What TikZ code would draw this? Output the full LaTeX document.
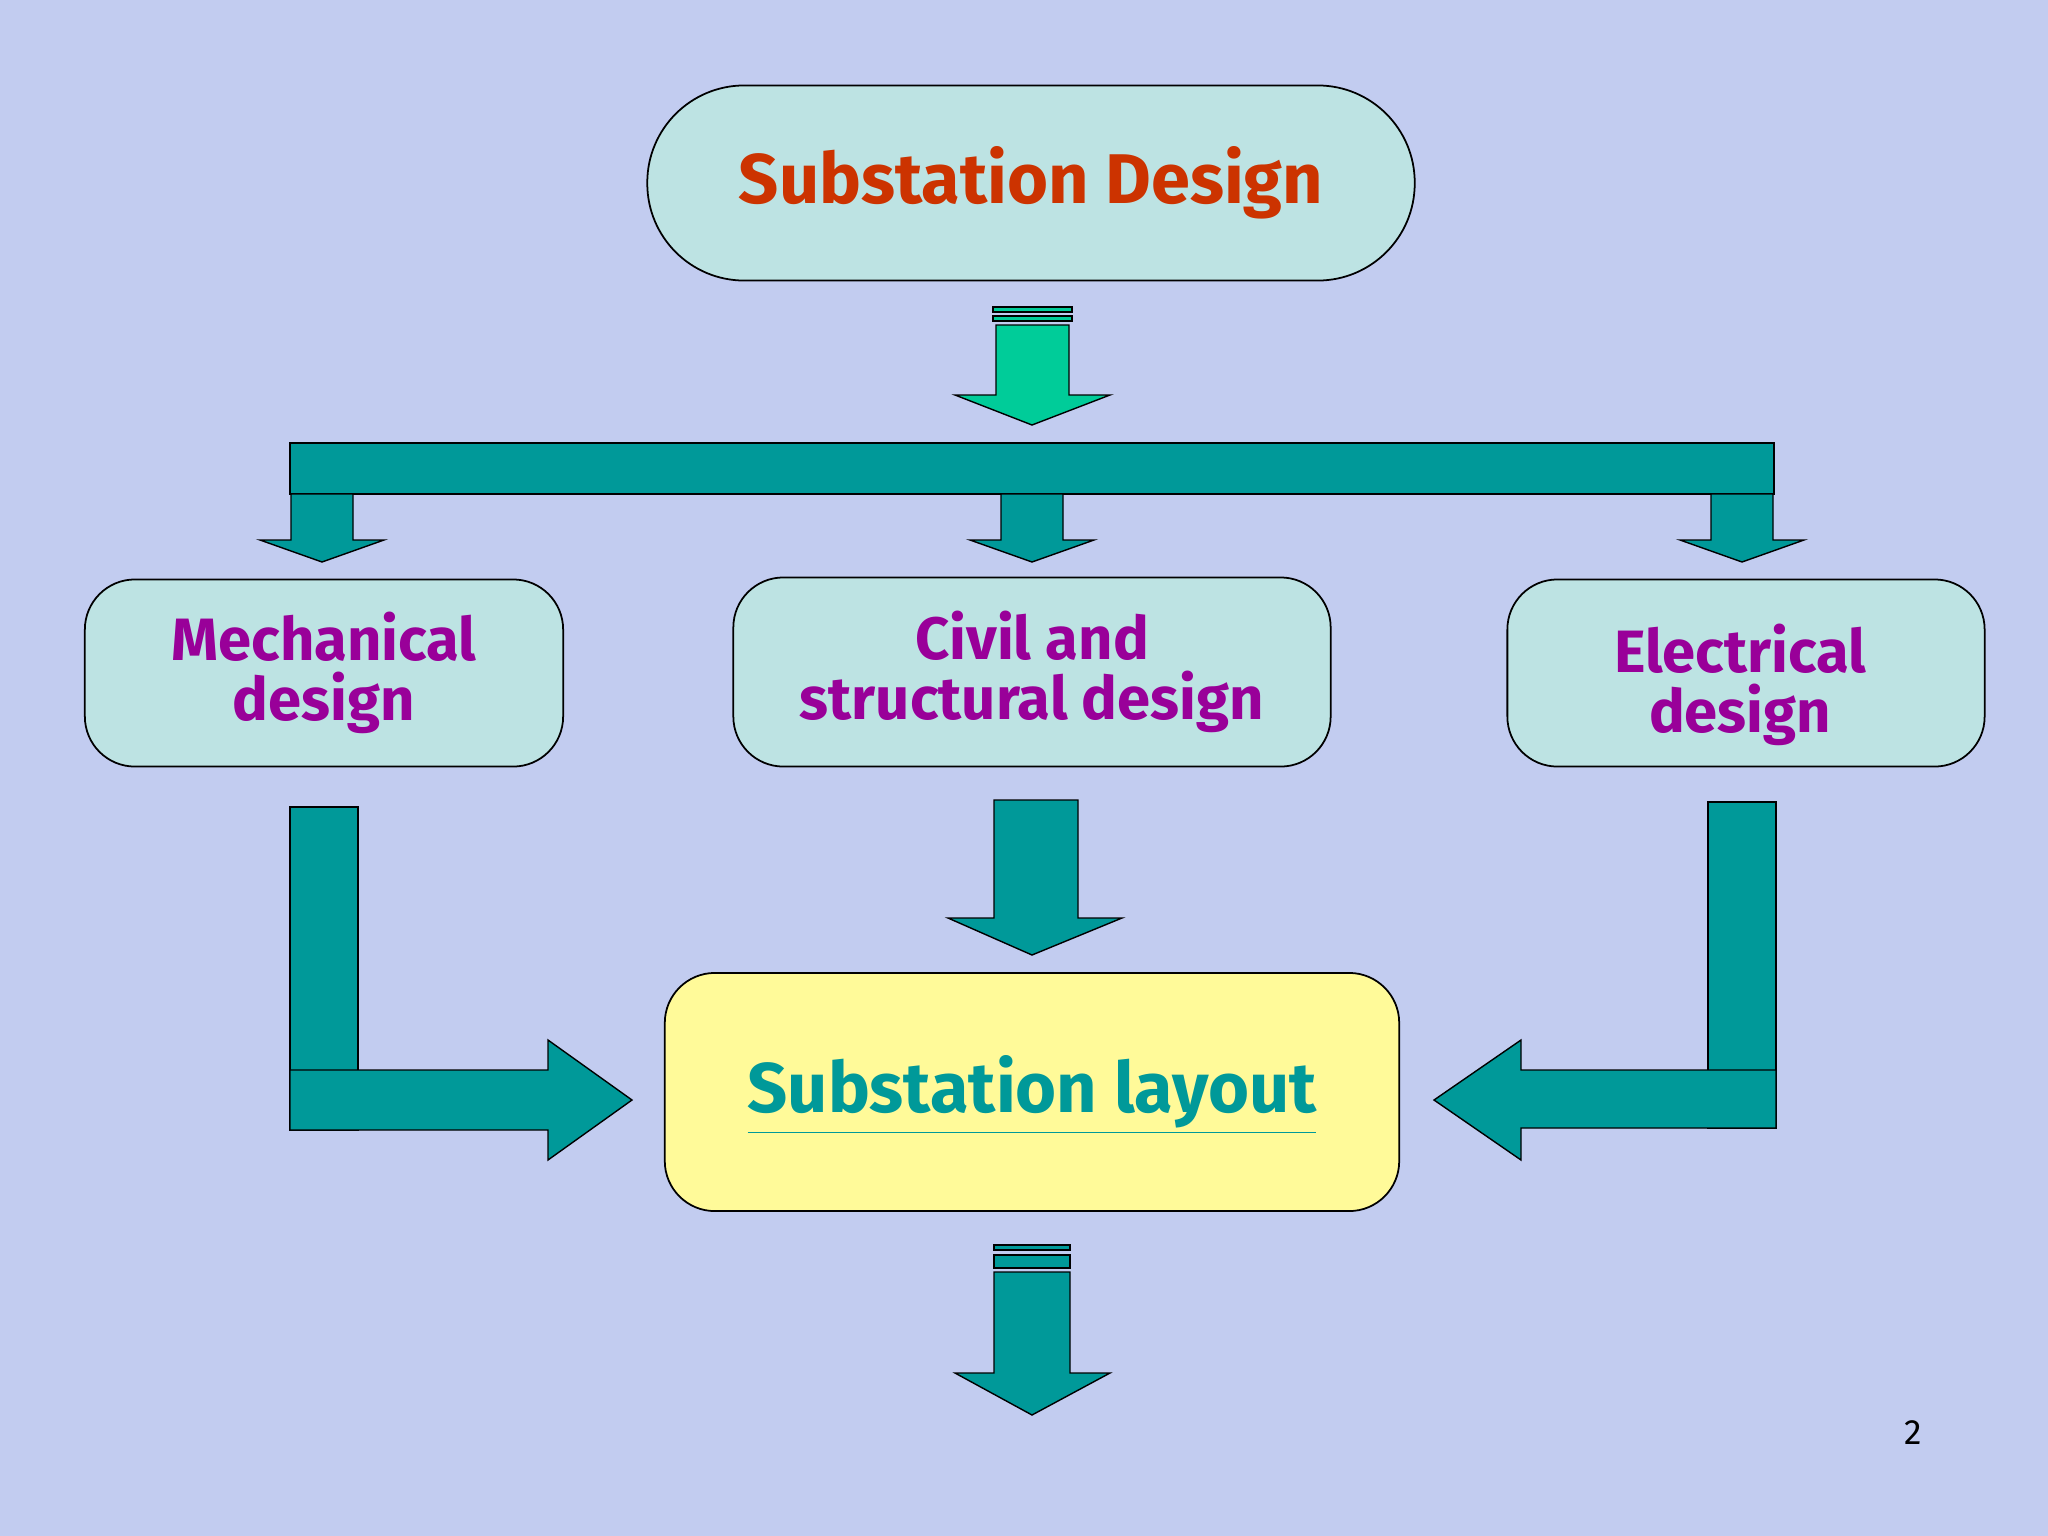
\documentclass[tikz,border=0pt]{standalone}
\usepackage{fontspec}
\setmainfont{Fira Sans}
\begin{document}
\begin{tikzpicture}[x=0.01cm,y=-0.01cm,
  box/.style={draw=black,line width=0.5pt,rounded corners=0.5cm,fill=boxc,inner sep=0pt},
  arr/.style={draw=black,line width=0.4pt,fill=teal1},
  lbl/.style={font=\bfseries\fontsize{17}{17}\selectfont,text=purp,align=center}]
\definecolor{bg}{HTML}{C2CCF0}
\definecolor{boxc}{HTML}{BDE3E3}
\definecolor{teal1}{HTML}{009999}
\definecolor{green1}{HTML}{00CC99}
\definecolor{purp}{HTML}{990099}
\definecolor{redo}{HTML}{CC3300}
\fill[bg] (0,0) rectangle (2048,1536);
\useasboundingbox (0,0) rectangle (2048,1536);
% top
\node[draw=black,line width=0.5pt,fill=boxc,rounded corners=0.97cm,inner sep=0pt,minimum width=7.67cm,minimum height=1.95cm,font=\bfseries\fontsize{20}{22}\selectfont,text=redo] (top) at (1031,183) {Substation Design};
% green arrow
\draw[arr,fill=green1] (993,307) rectangle (1072,312);
\draw[arr,fill=green1] (993,316) rectangle (1072,321);
\draw[arr,fill=green1] (996,325) -- (1069,325) -- (1069,395) -- (1110,395) -- (1032,425) -- (955,395) -- (996,395) -- cycle;
% bar
\draw[arr] (290,443) rectangle (1774,494);
\foreach \c in {322,1032,1742}{
 \draw[arr] (\c-31,494) -- (\c+31,494) -- (\c+31,540) -- (\c+62,540) -- (\c,562) -- (\c-62,540) -- (\c-31,540) -- cycle;}
% boxes
\node[box,minimum width=4.78cm,minimum height=1.87cm,lbl] (mech) at (324,673) {Mechanical\\design};
\node[box,minimum width=5.97cm,minimum height=1.89cm,lbl] (civ) at (1032,672) {Civil and\\structural design};
\node[box,minimum width=4.77cm,minimum height=1.87cm,lbl] (elec) at (1746,673) {};
\node[lbl] (eleclbl) at (1740,685) {Electrical\\design};
\node[box,fill=yellow!40,minimum width=7.34cm,minimum height=2.38cm] (lay) at (1032,1092) {};
\node[font=\bfseries\fontsize{20}{22}\selectfont,text=teal1] (laylbl) at (1032,1095) {\underline{Substation layout}};
% left L arrow
\draw[arr] (290,807) rectangle (358,1130);
\draw[arr] (290,1070) -- (548,1070) -- (548,1040) -- (632,1100) -- (548,1160) -- (548,1130) -- (290,1130) -- cycle;
% middle
\draw[arr] (994,800) -- (1078,800) -- (1078,918) -- (1122,918) -- (1032,955) -- (948,918) -- (994,918) -- cycle;
% right L arrow
\draw[arr] (1708,802) rectangle (1776,1128);
\draw[arr] (1776,1070) -- (1521,1070) -- (1521,1040) -- (1434,1100) -- (1521,1160) -- (1521,1128) -- (1776,1128) -- cycle;
% bottom
\draw[arr] (994,1245) rectangle (1070,1250);
\draw[arr] (994,1255) rectangle (1070,1268);
\draw[arr] (994,1272) -- (1070,1272) -- (1070,1373) -- (1110,1373) -- (1032,1415) -- (955,1373) -- (994,1373) -- cycle;
\node[font=\fontsize{10}{12}\selectfont] (pg) at (1913,1433) {2};
\end{tikzpicture}
\end{document}
